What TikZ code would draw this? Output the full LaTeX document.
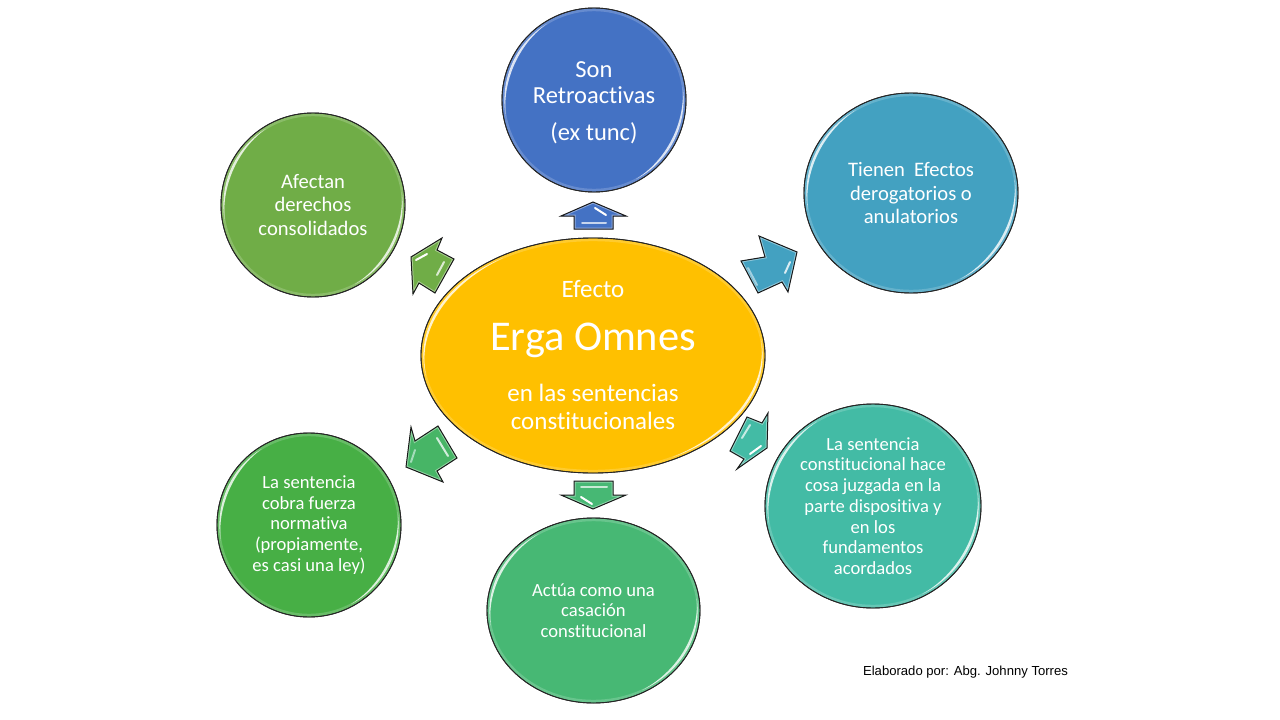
\documentclass[tikz,border=0pt]{standalone}
\usepackage{fontspec}
\setmainfont[Ligatures=NoCommon]{Carlito}
\newfontfamily\credit{Liberation Sans}
\usetikzlibrary{shapes.geometric}
\definecolor{cblue}{HTML}{4472C4}
\definecolor{cteal}{HTML}{43A1C1}
\definecolor{cleaf}{HTML}{70AD47}
\definecolor{corange}{HTML}{FFC000}
\definecolor{cmint}{HTML}{43BBA5}
\definecolor{cjade}{HTML}{47B874}
\definecolor{cgrass}{HTML}{47AF45}
\tikzset{
  x=1pt,y=-1pt,
  bubble/.style={ellipse,draw=black!85,line width=0.9pt,inner sep=0pt,text=white,align=center},
  shine/.style={line width=2pt,line cap=round},
  txtS/.style={font=\fontsize{18.6}{20.7}\selectfont},
  txtM/.style={font=\fontsize{20.6}{23.5}\selectfont},
  txtL/.style={font=\fontsize{24.5}{26}\selectfont},
  txtC/.style={font=\fontsize{25}{28}\selectfont},
}
% colour, outline path: a block arrow with a soft bevel inside its outline
\newcommand{\blockshape}[2]{%
  \fill[#1] #2;
  \begin{scope}
    \clip #2;
    \draw[#1!60!white,line width=3pt] #2;
  \end{scope}
  \draw[black!90,line width=1pt,line join=miter,miter limit=8] #2;
}
% name, cx, cy, rx, ry, colour, text style, text
\newcommand{\bubblenode}[8]{%
  \node[bubble,#7,fill=#6,minimum width=#4*2pt,minimum height=#5*2pt] (#1) at (#2,#3) {#8};
}
% cx, cy, rx, ry, colour: the soft bevel and two crescents
\newcommand{\bevel}[5]{%
  \draw[#5!82!white,line width=2.6pt] (#1,#2) circle[x radius=#3pt-1.9pt,y radius=#4pt-1.9pt];
  \draw[black!85,line width=0.9pt] (#1,#2) circle[x radius=#3pt,y radius=#4pt];
  \fill[white,opacity=.8,smooth,samples=30]
    plot[domain=122:190,variable=\t] ({#1+(#3-2.4)*cos(\t)},{#2-(#4-2.4)*sin(\t)})
    -- plot[domain=190:122,variable=\t] ({#1+(#3-2.4-2.4*sin((\t-122)*180/68))*cos(\t)},{#2-(#4-2.4-2.4*sin((\t-122)*180/68))*sin(\t)}) -- cycle;
  \fill[white,opacity=.8,smooth,samples=30]
    plot[domain=298:368,variable=\t] ({#1+(#3-2.4)*cos(\t)},{#2-(#4-2.4)*sin(\t)})
    -- plot[domain=368:298,variable=\t] ({#1+(#3-2.4-2.4*sin((\t-298)*180/70))*cos(\t)},{#2-(#4-2.4-2.4*sin((\t-298)*180/70))*sin(\t)}) -- cycle;
}
\begin{document}
\begin{tikzpicture}
\useasboundingbox (0,0) rectangle (1280,720);
\fill[white] (0,0) rectangle (1280,720);

% block arrows
\blockshape{cblue}{(593,202)--(561,216)--(574,216)--(574,229)--(613,229)--(613,216)--(626,216)--cycle}
\draw[shine,white] (595,208)--(606,215);
\draw[shine,cblue!30!white] (582,223)--(606,223);

\blockshape{cteal}{(797,252)--(759,236)--(765,257)--(741,261)--(758,293)--(782,282)--(788,292)--cycle}
\draw[shine,cteal!20!white] (785,273)--(790,262);
\draw[shine,cteal!50!white] (748,268)--(757,285);

\blockshape{cmint}{(767,448)--(768,413)--(762,423)--(747,417)--(730,451)--(744,459)--(737,469)--cycle}
\draw[shine,cmint!30!white] (742,438)--(750,425);
\draw[shine,white] (750,454)--(761,446);

\blockshape{cjade}{(593,509)--(626,495)--(613,495)--(613,481)--(574,481)--(574,495)--(561,495)--cycle}
\draw[shine,cjade!30!white] (581,487)--(607,487);
\draw[shine,white] (581,497)--(592,504);

\blockshape{cjade!70!cgrass}{(406,467)--(443,482)--(437,471)--(457,458)--(438,426)--(415,441)--(411,427)--cycle}
\draw[shine,cjade!25!white] (437,438)--(448,456);
\draw[shine,cjade!50!white] (411,462)--(415,450);

\blockshape{cleaf}{(411,257)--(442,238)--(437,250)--(454,259)--(435,293)--(419,283)--(413,294)--cycle}
\draw[shine,white] (416,260)--(427,254);
\draw[shine,cleaf!25!white] (437,275)--(444,262);

% circles
\bubblenode{center}{593}{355.5}{172}{117.5}{corange}{txtC}{%
  Efecto\\[25pt]{\fontsize{42.4}{40}\selectfont Erga Omnes}\\[23pt]en las sentencias\\constitucionales}
\bubblenode{top}{594}{100}{92}{92}{cblue}{txtL}{\rule{0pt}{22pt}Son\\Retroactivas\\[11pt](ex tunc)}
\bubblenode{topright}{911}{193}{107}{100}{cteal}{txtM}{Tienen~ Efectos\\derogatorios o\\anulatorios}
\bubblenode{botright}{873}{506}{108}{102}{cmint}{txtS}{La sentencia\\constitucional hace\\cosa juzgada en la\\parte dispositiva y\\en los\\fundamentos\\acordados}
\bubblenode{bottom}{593.5}{610.5}{106.5}{92.5}{cjade}{txtS}{Actúa como una\\casación\\constitucional}
\bubblenode{botleft}{309}{525}{92}{92}{cgrass}{txtS}{La sentencia\\cobra fuerza\\normativa\\(propiamente,\\es casi una ley)}
\bubblenode{topleft}{313}{205}{92}{92}{cleaf}{txtM}{Afectan\\derechos\\consolidados}

\bevel{593}{355.5}{172}{117.5}{corange}
\bevel{594}{100}{92}{92}{cblue}
\bevel{911}{193}{107}{100}{cteal}
\bevel{873}{506}{108}{102}{cmint}
\bevel{593.5}{610.5}{106.5}{92.5}{cjade}
\bevel{309}{525}{92}{92}{cgrass}
\bevel{313}{205}{92}{92}{cleaf}

\node[text=black,font=\credit\fontsize{13.1}{16}\selectfont,inner sep=0pt] (credit) at (965.5,672) {Elaborado por: Abg. Johnny Torres};
\end{tikzpicture}
\end{document}
